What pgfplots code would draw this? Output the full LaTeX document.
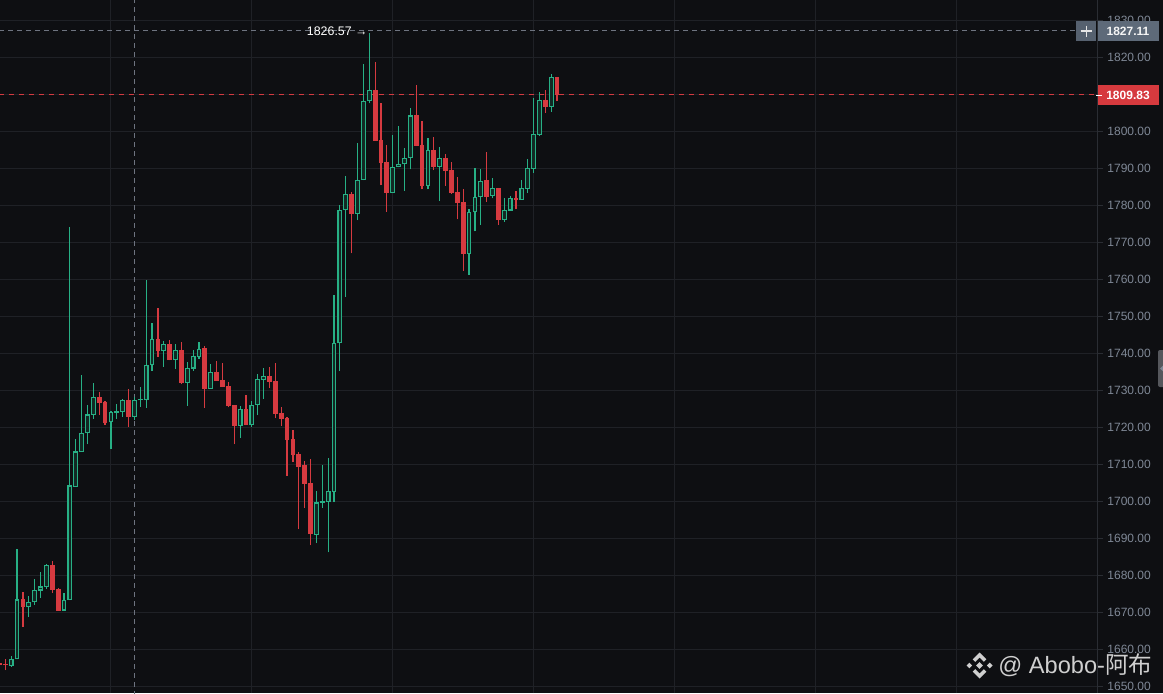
\documentclass[border=0pt]{standalone}
\usepackage{pgfplots}
\pgfplotsset{compat=1.18}
\usepackage{pgfplotstable}
\usepackage{fontspec}
\setmainfont{Liberation Sans}
\newfontfamily\cjk{Noto Sans CJK SC}
\definecolor{bg}{HTML}{0E0F12}
\definecolor{gridc}{HTML}{1F2126}
\definecolor{borderc}{HTML}{2A2D33}
\definecolor{upgreen}{HTML}{27B085}
\definecolor{downred}{HTML}{D63A40}
\colorlet{upfill}{upgreen!16!bg}
\definecolor{tickc}{HTML}{7F8896}
\definecolor{crossc}{HTML}{6E7480}
\definecolor{crossbox}{HTML}{5E6A79}
\definecolor{plusbox}{HTML}{56616F}
\definecolor{redbox}{HTML}{D63A3E}
\definecolor{wm}{HTML}{CFCFCF}

\pgfplotstableread{
i O H L C
2 1655.5 1658.1 1655.2 1657.2
3 1657.2 1687.0 1657.2 1673.4
5 1671.3 1674.3 1668.7 1672.6
6 1672.6 1678.8 1671.9 1675.9
7 1675.8 1680.9 1673.9 1676.9
8 1676.8 1682.9 1676.3 1682.6
11 1670.4 1675.1 1670.4 1673.2
12 1673.2 1774.0 1673.2 1704.2
13 1703.9 1716.8 1703.9 1713.4
14 1713.3 1734.1 1713.3 1718.3
15 1718.3 1725.9 1715.4 1723.4
16 1723.3 1731.8 1722.2 1728.0
19 1721.3 1724.3 1714.1 1724.0
20 1723.9 1726.2 1722.2 1724.3
21 1724.0 1727.7 1722.8 1727.2
23 1722.8 1728.0 1722.0 1727.2
24 1727.2 1730.7 1725.5 1727.5
25 1727.2 1759.7 1725.2 1736.7
26 1736.7 1748.0 1735.2 1743.7
28 1740.6 1743.3 1736.3 1742.4
30 1738.2 1742.4 1735.7 1740.7
32 1732.0 1737.5 1725.8 1735.9
33 1735.8 1740.8 1735.2 1739.1
34 1739.0 1742.9 1738.4 1741.2
36 1730.3 1737.0 1730.3 1734.8
41 1720.3 1725.8 1717.1 1724.8
43 1720.5 1727.0 1720.1 1725.9
44 1725.9 1734.3 1723.2 1732.9
45 1732.8 1735.9 1727.7 1733.7
54 1690.9 1702.8 1688.6 1699.6
55 1699.5 1709.7 1698.2 1699.9
56 1699.8 1711.6 1686.1 1702.6
57 1702.5 1755.7 1699.7 1742.6
58 1742.6 1779.9 1735.1 1778.6
59 1778.6 1787.8 1755.2 1782.9
61 1777.6 1796.8 1775.9 1786.7
62 1786.7 1818.0 1786.7 1808.0
63 1808.0 1826.57 1807.5 1811.2
67 1783.3 1799.0 1783.3 1790.2
68 1790.2 1801.3 1790.2 1791.0
69 1791.0 1795.4 1783.9 1792.7
70 1792.7 1806.3 1789.6 1804.2
73 1785.2 1798.0 1784.2 1795.0
75 1790.3 1795.8 1781.1 1792.6
80 1766.8 1779.0 1761.1 1778.0
81 1778.0 1790.0 1772.9 1782.1
82 1782.1 1789.8 1774.6 1786.4
84 1782.5 1787.3 1781.8 1784.5
86 1775.9 1781.8 1775.5 1778.6
87 1778.5 1782.4 1778.5 1781.9
89 1781.4 1786.8 1781.4 1784.5
90 1784.4 1792.5 1783.3 1790.0
91 1789.8 1808.8 1788.7 1799.1
92 1799.0 1810.6 1798.6 1808.5
94 1806.6 1815.5 1805.2 1814.6
}\upcandles

\pgfplotstableread{
i O H L C
0 1656.2 1656.5 1655.5 1655.8
1 1655.9 1657.2 1654.3 1655.6
4 1673.4 1675.3 1666.0 1671.3
9 1682.6 1683.7 1675.2 1675.9
10 1676.2 1676.5 1670.4 1670.4
17 1728.0 1729.4 1723.2 1726.6
18 1726.8 1727.1 1720.6 1721.2
22 1727.2 1730.3 1720.1 1722.8
27 1743.7 1752.1 1739.0 1740.6
29 1742.4 1743.4 1738.0 1738.1
31 1740.7 1742.9 1731.6 1731.9
35 1741.4 1742.0 1725.2 1730.3
37 1734.9 1737.8 1732.5 1732.5
38 1732.6 1737.2 1730.9 1730.9
39 1731.1 1732.1 1725.3 1725.7
40 1725.9 1725.9 1715.4 1720.3
42 1724.8 1728.6 1720.5 1720.5
46 1733.7 1736.2 1730.5 1732.2
47 1732.4 1737.3 1722.4 1723.5
48 1723.8 1725.4 1720.4 1722.3
49 1722.4 1722.6 1706.8 1716.5
50 1716.8 1719.2 1710.5 1712.4
51 1712.7 1713.2 1692.4 1709.3
52 1709.7 1710.9 1698.2 1704.6
53 1704.9 1711.3 1688.1 1691.1
60 1782.9 1783.6 1766.9 1777.6
64 1811.2 1818.6 1797.4 1797.4
65 1797.6 1807.7 1785.4 1791.4
66 1791.6 1796.1 1778.2 1783.3
71 1804.2 1812.4 1795.9 1796.0
72 1796.1 1802.7 1784.2 1785.2
74 1795.0 1798.5 1789.4 1790.3
76 1792.6 1793.7 1785.2 1789.2
77 1789.4 1791.6 1783.0 1783.3
78 1783.5 1787.6 1776.1 1780.6
79 1780.8 1784.4 1762.3 1766.8
83 1786.8 1794.4 1780.9 1782.3
85 1784.6 1784.6 1774.6 1775.9
88 1781.9 1783.8 1778.9 1781.4
93 1808.5 1811.1 1805.0 1806.6
95 1814.6 1814.6 1808.2 1809.83
}\downcandles

\pgfplotsset{candle/.style={only marks, mark=*, mark size=0pt,
  mark options={draw=none, fill=none},
  error bars/.cd, y dir=plus, y explicit, error mark=none}}

\begin{document}
\begin{tikzpicture}
\fill[bg] (0,0) rectangle (581.5pt,346.5pt);
\begin{axis}[
  at={(0,0)}, anchor=south west,
  scale only axis, width=548.5pt, height=346.5pt,
  xmin=0.097, xmax=186.98, ymin=1648.11, ymax=1835.41,
  axis line style={draw=none},
  ytick={1650,1660,...,1830},
  xtick={18.9,42.92,66.94,90.96,114.98,139.0,163.02},
  xticklabels={},
  xmajorgrids, ymajorgrids,
  grid style={gridc, line width=0.5pt},
  major x tick style={draw=none},
  ytick pos=right, yticklabel pos=right,
  tick align=outside, major tick length=3pt,
  major y tick style={borderc, line width=0.5pt},
  yticklabel style={anchor=west, inner sep=0pt, xshift=2pt, text=tickc,
    font=\fontsize{6pt}{7pt}\selectfont,
    /pgf/number format/.cd, fixed, fixed zerofill, precision=2, 1000 sep={},
    assume math mode=true},
  clip mode=individual,
]
% reference lines
\addplot[crossc, line width=0.5pt, dash pattern=on 2.5pt off 2pt] coordinates {(0,1827.11) (190,1827.11)};
\addplot[crossc, line width=0.5pt, dash pattern=on 2.5pt off 2pt] coordinates {(22.98,1640) (22.98,1840)};
\addplot[downred, line width=0.5pt, dash pattern=on 2.5pt off 2.5pt] coordinates {(0,1809.83) (190,1809.83)};
% up candles: wick, body outline, hollow inside
\addplot[upgreen, candle, error bar style={draw=upgreen, line width=0.6pt}]
  table[x=i, y=L, y error plus expr=\thisrow{H}-\thisrow{L}] {\upcandles};
\addplot[upgreen, candle, error bar style={draw=upgreen, line width=2.4pt}]
  table[x=i, y=O, y error plus expr=\thisrow{C}-\thisrow{O}] {\upcandles};
\addplot[upfill, candle, error bar style={draw=upfill, line width=1.3pt}]
  table[x=i, y expr=\thisrow{O}+0.29, y error plus expr={max(\thisrow{C}-\thisrow{O}-0.58,0)}] {\upcandles};
% down candles: wick and filled body
\addplot[downred, candle, error bar style={draw=downred, line width=0.6pt}]
  table[x=i, y=L, y error plus expr=\thisrow{H}-\thisrow{L}] {\downcandles};
\addplot[downred, candle, error bar style={draw=downred, line width=2.4pt}]
  table[x=i, y=C, y error plus expr={max(\thisrow{O}-\thisrow{C},0.27)}] {\downcandles};
\end{axis}
% overlays in pixel coordinates (origin top left)
\begin{scope}[x=0.5pt, y=-0.5pt, shift={(0pt,346.5pt)}]
  \draw[borderc, line width=0.5pt] (1097,0) -- (1097,693);
  % high label
  \node[anchor=east, inner sep=0pt, text=white, font=\fontsize{6.2pt}{7pt}\selectfont] at (368,31.5) {1826.57 →};
  % crosshair label
  \fill[plusbox] (1076,21) rectangle (1096,41);
  \draw[white!80!gray, line width=0.6pt] (1080.5,31) -- (1092,31) (1086.2,25.5) -- (1086.2,36.5);
  \fill[crossbox] (1097.5,21) rectangle (1159,41);
  \node[inner sep=0pt, text=white!92!gray, font=\bfseries\fontsize{6pt}{7pt}\selectfont] at (1128,31) {1827.11};
  % last price label
  \fill[redbox] (1097.5,85) rectangle (1159,105);
  \draw[white, line width=0.5pt] (1096,95) -- (1102,95);
  \node[inner sep=0pt, text=white, font=\bfseries\fontsize{6pt}{7pt}\selectfont] at (1128,95) {1809.83};
  % side handle
  \fill[borderc!80!white, rounded corners=1pt] (1158,350) rectangle (1168,387);
  \fill[tickc] (1160,368.5) -- (1163,365.5) -- (1163,371.5) -- cycle;
  % watermark
  \begin{scope}[shift={(979.5,665.5)}, fill=wm]
    \fill (0,-13) -- (6.8,-6.2) -- (4.3,-3.7) -- (0,-8) -- (-4.3,-3.7) -- (-6.8,-6.2) -- cycle;
    \fill (0,13) -- (6.8,6.2) -- (4.3,3.7) -- (0,8) -- (-4.3,3.7) -- (-6.8,6.2) -- cycle;
    \fill (-13,0) -- (-10.2,-2.8) -- (-7.4,0) -- (-10.2,2.8) -- cycle;
    \fill (13,0) -- (10.2,-2.8) -- (7.4,0) -- (10.2,2.8) -- cycle;
    \fill (0,-3.4) -- (3.4,0) -- (0,3.4) -- (-3.4,0) -- cycle;
  \end{scope}
  \node[anchor=base west, inner sep=0pt, text=wm, font=\fontsize{11.8pt}{13pt}\selectfont] at (998,673.5) {@ Abobo-{\cjk 阿布}};
\end{scope}
\pgfresetboundingbox
\path[use as bounding box] (0,0) rectangle (581.5pt,346.5pt);
\end{tikzpicture}
\end{document}
